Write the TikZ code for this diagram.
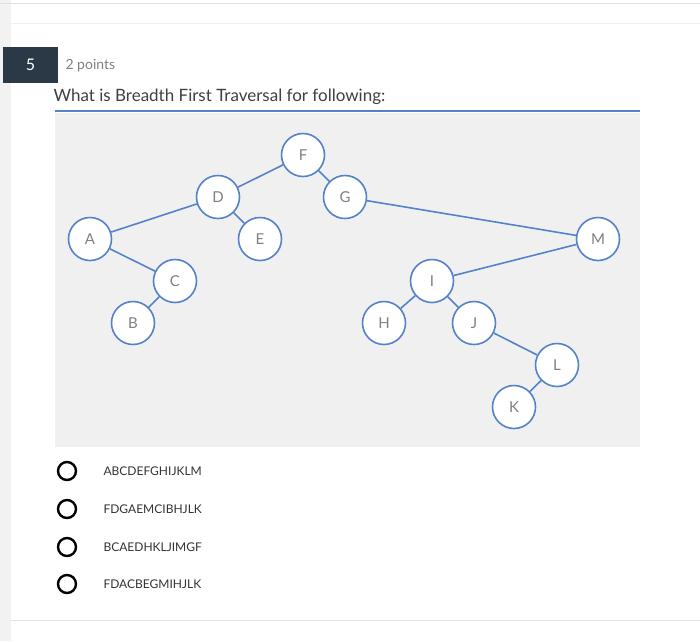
\documentclass[tikz,border=0pt]{standalone}
\usepackage{fontspec}
\setmainfont{Lato}
\begin{document}
\begin{tikzpicture}[x=1pt,y=-1pt,
  tn/.style={circle,draw=tblue,fill=white,line width=1.6pt,minimum size=43pt,inner sep=0pt,font=\fontsize{15}{15}\selectfont,text=gray},
  ed/.style={draw=tblue,line width=1.6pt},
  radio/.style={circle,draw=black,line width=2.4pt,minimum size=18pt,inner sep=0pt},
  opt/.style={anchor=west,font=\fontsize{12}{12}\selectfont,text=black!80}]
\definecolor{tblue}{RGB}{85,130,200}
\definecolor{sq}{RGB}{43,57,70}
\useasboundingbox (0,0) rectangle (700,641);
\fill[white] (0,0) rectangle (700,641);
\fill[black!5] (0,0) rectangle (11,641);
\draw[black!12] (0,3) -- (700,3);
\draw[black!6] (11,23) -- (700,23);
\draw[black!10] (11,620) -- (700,620);
\node[fill=sq,minimum width=55pt,minimum height=36pt,inner sep=0pt,text=white,font=\fontsize{16}{16}\selectfont] (num) at (30.5,65) {5};
\node[anchor=west,text=gray,font=\fontsize{14}{14}\selectfont] (pts) at (62,66) {2 points};
\node[anchor=west,text=black!75,font=\fontsize{17}{17}\selectfont] (q) at (50,97) {What is Breadth First Traversal for following:};
\fill[black!6] (55,113) rectangle (640,447);
\draw[tblue,line width=1.5pt] (55,111) -- (640,111);
\node[tn] (F) at (303,155) {F};
\node[tn] (D) at (218,197) {D};
\node[tn] (G) at (345,197) {G};
\node[tn] (E) at (260,239) {E};
\node[tn] (A) at (90,239) {A};
\node[tn] (M) at (598,239) {M};
\node[tn] (C) at (175,281) {C};
\node[tn] (I) at (432,281) {I};
\node[tn] (B) at (133,323) {B};
\node[tn] (H) at (384,323) {H};
\node[tn] (J) at (474,323) {J};
\node[tn] (L) at (557,365) {L};
\node[tn] (K) at (514,407) {K};
\foreach \a/\b in {F/D,F/G,D/A,D/E,G/M,A/C,C/B,M/I,I/H,I/J,J/L,L/K}
  \draw[ed] (\a) -- (\b);
\foreach \y/\t [count=\i] in {471/ABCDEFGHIJKLM,509/FDGAEMCIBHJLK,547/BCAEDHKLJIMGF,584/FDACBEGMIHJLK}{
  \node[radio] (r\i) at (67,\y) {};
  \node[opt] (o\i) at (100,\y) {\t};
}
\end{tikzpicture}
\end{document}
